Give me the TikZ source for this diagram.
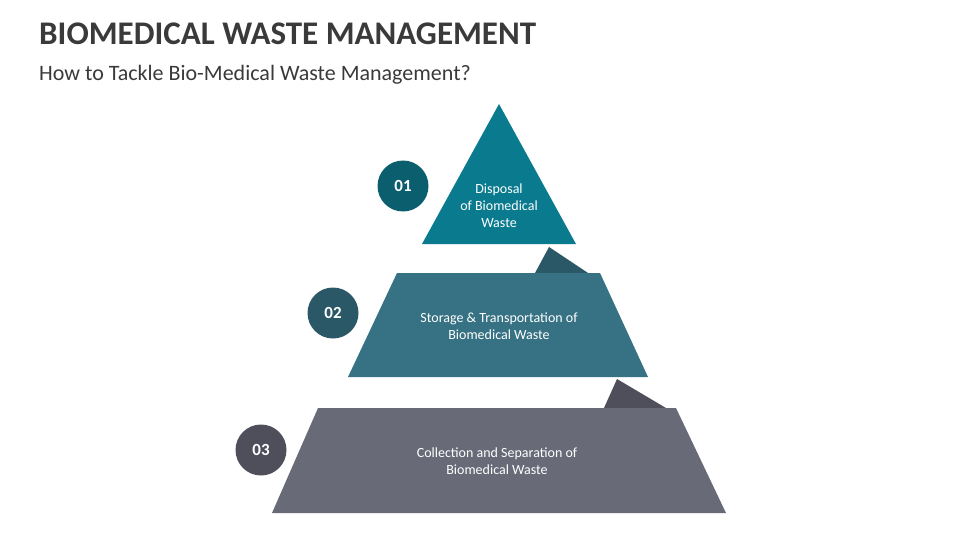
\documentclass[tikz,border=0pt]{standalone}
\usepackage{fontspec}
\setmainfont{Carlito}
\definecolor{tA}{HTML}{0A7A8F}
\definecolor{tAd}{HTML}{0A5E6E}
\definecolor{tB}{HTML}{367283}
\definecolor{tBd}{HTML}{2B5866}
\definecolor{tC}{HTML}{686A78}
\definecolor{tCd}{HTML}{4E4F5B}
\definecolor{ttl}{HTML}{3A3A3A}
\tikzset{num/.style={circle,minimum size=51pt,inner sep=0pt,text=white,font=\fontsize{17}{17}\selectfont\bfseries},
lbl/.style={text=white,align=center,font=\fontsize{14}{17}\selectfont}}
\begin{document}
\begin{tikzpicture}[x=1pt,y=-1pt]
\useasboundingbox (0,0) rectangle (960,540);
\node[anchor=base west,inner sep=0,text=ttl,font=\fontsize{33}{33}\selectfont\bfseries] (title) at (39,45) {BIOMEDICAL WASTE MANAGEMENT};
\node[anchor=base west,inner sep=0,text=ttl,font=\fontsize{22}{22}\selectfont] (sub) at (39,81) {How to Tackle Bio-Medical Waste Management?};
% folds
\fill[tBd] (549,247) -- (535,273) -- (588,273) -- cycle;
\fill[tCd] (617,379) -- (604,408) -- (666,408) -- cycle;
% shapes
\fill[tA] (499,104) -- (576,244) -- (422,244) -- cycle;
\fill[tB] (397,273) -- (600,273) -- (648,377) -- (348,377) -- cycle;
\fill[tC] (318,408) -- (676,408) -- (726,513) -- (272,513) -- cycle;
\node[lbl] (l1) at (499,206) {Disposal\\of Biomedical\\Waste};
\node[lbl] (l2) at (499,326) {Storage \& Transportation of\\Biomedical Waste};
\node[lbl] (l3) at (497,461) {Collection and Separation of\\Biomedical Waste};
\node[num,fill=tAd] (n1) at (403,186) {01};
\node[num,fill=tBd] (n2) at (333,313) {02};
\node[num,fill=tCd] (n3) at (261,450) {03};
\end{tikzpicture}
\end{document}
